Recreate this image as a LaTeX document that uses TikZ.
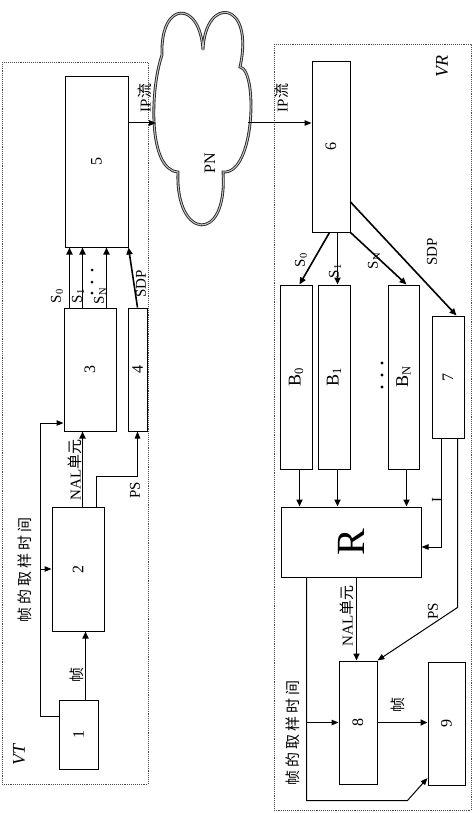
\documentclass[tikz,border=0pt]{standalone}
\usepackage{fontspec}
\usepackage{graphicx}
\setmainfont{Liberation Serif}
\newfontfamily\cjk{Noto Sans CJK SC}
\usetikzlibrary{arrows.meta}
\newcommand{\rt}[1]{\rotatebox{90}{#1}}
\newcommand{\samptime}{\cjk 帧\hspace{3pt}的\hspace{3pt}取\hspace{3pt}样\hspace{3pt}时\hspace{3pt}间}
\begin{document}
\begin{tikzpicture}[x=1pt,y=-1pt,
  box/.style={draw,line width=1pt,inner sep=0pt,font=\fontsize{16}{16}\selectfont},
  frame/.style={draw=gray!60!black,densely dotted,line width=0.9pt},
  arr/.style={line width=1pt,-{Triangle[length=7pt,width=5.5pt]}},
  tarr/.style={line width=1.6pt,-{Triangle[length=7pt,width=6pt]}},
  lab/.style={inner sep=0pt,font=\fontsize{15}{15}\selectfont},
  cloudline/.style={draw=black!85,line width=0.9pt,double=gray!45,double distance=1pt}]
\useasboundingbox (0,0) rectangle (474,813);

% frames
\draw[frame] (2,62) rectangle (148,784);
\draw[frame] (274,44) rectangle (471,810);
\node[lab,font=\fontsize{18}{18}\selectfont\itshape] (vt) at (19,755) {\rt{VT}};
\node[lab,font=\fontsize{18}{18}\selectfont\itshape] (vr) at (442,67) {\rt{VR}};

% left boxes
\node[box,minimum width=63pt,minimum height=170pt] (b5) at (96.5,162) {\rt{5}};
\node[box,minimum width=52pt,minimum height=123pt] (b3) at (90,369.5) {\rt{3}};
\node[box,minimum width=19pt,minimum height=123pt] (b4) at (137.5,369.5) {\rt{4}};
\node[box,minimum width=52pt,minimum height=124pt] (b2) at (78,569) {\rt{2}};
\node[box,minimum width=39pt,minimum height=69pt] (b1) at (78.5,734.5) {\rt{1}};

% right boxes
\node[box,minimum width=38pt,minimum height=170pt] (b6) at (331,147) {\rt{6}};
\node[box,minimum width=32pt,minimum height=184pt,font=\fontsize{18}{18}\selectfont] (B0) at (296,377) {\rt{B\textsubscript{0}}};
\node[box,minimum width=32pt,minimum height=184pt,font=\fontsize{18}{18}\selectfont] (B1) at (334,377) {\rt{B\textsubscript{1}}};
\node[box,minimum width=31pt,minimum height=184pt,font=\fontsize{18}{18}\selectfont] (BN) at (403.5,377) {\rt{B\textsubscript{N}}};
\node[box,minimum width=32pt,minimum height=122pt] (b7) at (448,377) {\rt{7}};
\node[box,minimum width=140pt,minimum height=70pt,font=\fontsize{40}{40}\selectfont] (R) at (351,542) {\rt{R}};
\node[box,minimum width=38pt,minimum height=123pt] (b8) at (358,722.5) {\rt{8}};
\node[box,minimum width=37pt,minimum height=123pt] (b9) at (446.5,723.5) {\rt{9}};

% cloud
\draw[cloudline] (178,172) .. controls (175,240) and (228,245) .. (223,172)
  .. controls (255,175) and (258,70) .. (240,67)
  .. controls (255,0) and (205,-5) .. (203,50)
  .. controls (200,0) and (160,0) .. (162,55)
  .. controls (150,90) and (148,170) .. (178,172) -- cycle;
\node[lab,font=\fontsize{16}{16}\selectfont] (pn) at (210,163) {\rt{PN}};
\coordinate (cin) at (156,123);
\coordinate (cout) at (248,123);

% left connectors
\coordinate (s0) at ([xshift=6pt]b3.north west);
\coordinate (s1) at ([xshift=19pt]b3.north west);
\coordinate (sn) at ([xshift=43pt]b3.north west);
\draw[tarr] (s0) -- (s0 |- b5.south);
\draw[tarr] (s1) -- (s1 |- b5.south);
\draw[tarr] (sn) -- (sn |- b5.south);
\draw[tarr] ([xshift=10pt]b4.north west) -- (b5.south east);
\draw[arr] ([yshift=39pt]b5.east) -- (cin);
\coordinate (nal) at ([xshift=31pt]b2.north west);
\draw[tarr] (nal) -- (nal |- b3.south);
\coordinate (ps) at ([xshift=45pt]b2.north west);
\draw[arr] (ps) -- ++(0,-30) -| (b4.south);
\coordinate (fr) at ([xshift=27pt]b1.north west);
\draw[tarr] (fr) -- (fr |- b2.south);
\coordinate (ts) at ([yshift=18.5pt]b1.west);
\draw[arr] (ts) -- ++(-18,0) |- ([yshift=-53.5pt]b3.west);
\coordinate (tb) at (41,569);
\draw[arr] (tb) -- (b2.west);

% left labels
\node[lab] (lip1) at (145,98) {\rt{IP\cjk 流}};
\node[lab] (ls0) at (57,296) {\rt{S\textsubscript{0}}};
\node[lab] (ls1) at (78,296) {\rt{S\textsubscript{1}}};
\node[lab] (lsn) at (100,296) {\rt{S\textsubscript{N}}};
\foreach \yy in {270,282,293} \fill (92,\yy) circle (1.5);
\node[lab] (lsdp1) at (141,284) {\rt{SDP}};
\node[lab] (lnal1) at (75,470) {\rt{NAL\cjk 单元}};
\node[lab] (lps1) at (135,490) {\rt{PS}};
\node[lab] (lst1) at (25,570) {\rt{\samptime}};
\node[lab] (lfr1) at (77,675) {\rt{\cjk 帧}};

% right connectors
\draw[arr] (cout) -- ([yshift=24pt]b6.west);
\draw[tarr] ([xshift=18pt]b6.south west) -- ([xshift=20pt]B0.north west);
\draw[tarr] ([xshift=26pt]b6.south west) -- ([xshift=20pt]B1.north west);
\draw[tarr] (b6.south east) -- ([xshift=19pt]BN.north west);
\draw[tarr] ([yshift=-55pt]b6.east) -- ([xshift=25pt]b7.north west);
\coordinate (r0) at ([xshift=20pt]B0.south west);
\coordinate (r1) at ([xshift=20pt]B1.south west);
\coordinate (rn) at ([xshift=19pt]BN.south west);
\draw[tarr] (r0) -- (r0 |- R.north);
\draw[tarr] (r1) -- (r1 |- R.north);
\draw[tarr] (rn) -- (rn |- R.north);
\draw[arr] ([xshift=10pt]b7.south west) |- ([yshift=-5pt]R.east);
\coordinate (p7) at ([xshift=26pt]b7.south west);
\draw[arr] (p7) -- ++(0,169) -- (b8.north east);
\coordinate (rn2) at ([xshift=76pt]R.south west);
\draw[tarr] (rn2) -- (rn2 |- b8.north);
\coordinate (rs) at ([xshift=26pt]R.south west);
\draw[arr] (rs) -- ++(0,223) -- ++(101,0) -- ([yshift=-54.5pt]b9.west);
\coordinate (rb) at (rs |- b8.west);
\draw[arr] (rb) -- (b8.west);
\draw[tarr] (b8.east) -- (b8.east -| b9.west);

% right labels
\node[lab] (lip2) at (282,98) {\rt{IP\cjk 流}};
\node[lab] (rs0) at (301,260) {\rt{S\textsubscript{0}}};
\node[lab] (rs1) at (335,271) {\rt{S\textsubscript{1}}};
\node[lab] (rsn) at (374,261) {\rt{S\textsubscript{N}}};
\node[lab] (rsdp) at (432,252) {\rt{SDP}};
\foreach \yy in {363,375,387} \fill (382,\yy) circle (1.6);
\node[lab] (li) at (437,500) {\rt{I}};
\node[lab] (lps2) at (433,611) {\rt{PS}};
\node[lab] (lnal2) at (347,616) {\rt{NAL\cjk 单元}};
\node[lab] (lst2) at (293,733) {\rt{\samptime}};
\node[lab] (lfr2) at (398,705) {\rt{\cjk 帧}};
\end{tikzpicture}
\end{document}
